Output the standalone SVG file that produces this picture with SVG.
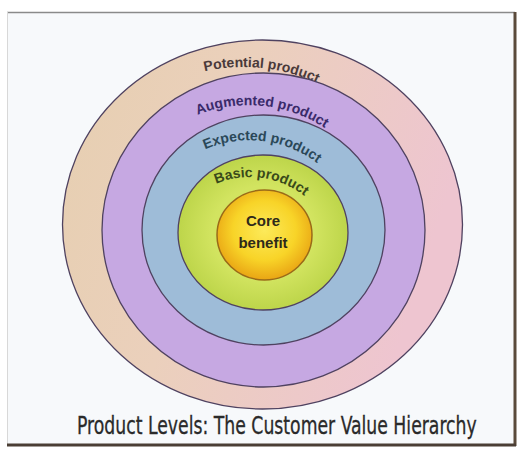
<svg xmlns="http://www.w3.org/2000/svg" width="532" height="454" viewBox="0 0 532 454">
  <defs>
    <linearGradient id="gOuter" x1="0" y1="0" x2="1" y2="0.3">
      <stop offset="0" stop-color="#e6cfb0"/>
      <stop offset="0.45" stop-color="#ebd0bc"/>
      <stop offset="1" stop-color="#eec5d0"/>
    </linearGradient>
    <radialGradient id="gCore" cx="0.5" cy="0.45" r="0.55">
      <stop offset="0" stop-color="#fcea5a"/>
      <stop offset="0.6" stop-color="#f8d428"/>
      <stop offset="1" stop-color="#e9a514"/>
    </radialGradient>
    <radialGradient id="gBasic" cx="0.5" cy="0.5" r="0.5">
      <stop offset="0.6" stop-color="#d2e460"/>
      <stop offset="1" stop-color="#bdd54a"/>
    </radialGradient>
    <path id="pPot" d="M 68.7 242 A 175 175 0 0 1 418.7 242"/>
    <path id="pAug" d="M 108.4 245.2 A 140 140 0 0 1 388.4 245.2"/>
    <path id="pExp" d="M 137.3 252.2 A 112 112 0 0 1 361.3 252.2"/>
    <path id="pBas" d="M 161.8 265.1 A 88 88 0 0 1 337.8 265.1"/>
  </defs>
  <style>
    .ring { stroke: #4f4260; stroke-width: 1.3; }
    .lbl { font-family: "Liberation Sans", Arial, sans-serif; font-size: 14px; font-weight: bold; text-anchor: middle; }
    .core { font-family: "Liberation Sans", Arial, sans-serif; font-size: 15px; font-weight: bold; text-anchor: middle; fill: #2e2a1a; }
    .cap { font-family: "DejaVu Sans Condensed", "Liberation Sans", sans-serif; font-size: 24px; fill: #2a2a2a; stroke: #2a2a2a; stroke-width: 0.3; }
  </style>
  <rect x="0" y="0" width="532" height="454" fill="#ffffff"/>
  <g id="frame">
    <rect x="7" y="12" width="508" height="433" fill="#f7f9fb"/>
    <line x1="7" y1="12.5" x2="515" y2="12.5" stroke="#8a8a8a" stroke-width="1.5"/>
    <line x1="7.5" y1="12" x2="7.5" y2="445" stroke="#d8d8d8" stroke-width="1"/>
    <line x1="515" y1="12" x2="515" y2="446" stroke="#5a4a3a" stroke-width="3"/>
    <line x1="7" y1="445" x2="516" y2="445" stroke="#4a3e34" stroke-width="3"/>
  </g>
  <g id="potential">
    <ellipse cx="262.5" cy="224.5" rx="200" ry="184.5" fill="url(#gOuter)" class="ring"/>
    <text class="lbl" fill="#4a3a3a"><textPath href="#pPot" startOffset="53.3%">Potential product</textPath></text>
  </g>
  <g id="augmented">
    <ellipse cx="263.5" cy="230" rx="161.5" ry="157" fill="#c6a8e2" class="ring"/>
    <text class="lbl" fill="#3a2a6a"><textPath href="#pAug" startOffset="53.3%">Augmented product</textPath></text>
  </g>
  <g id="expected">
    <ellipse cx="263.5" cy="230" rx="121.5" ry="115" fill="#9ebcd8" class="ring"/>
    <text class="lbl" fill="#2a4858"><textPath href="#pExp" startOffset="53.9%">Expected product</textPath></text>
  </g>
  <g id="basic">
    <ellipse cx="263" cy="232.5" rx="85" ry="77.5" fill="url(#gBasic)" class="ring"/>
    <text class="lbl" fill="#3a4a1a"><textPath href="#pBas" startOffset="54.4%">Basic product</textPath></text>
  </g>
  <g id="core">
    <ellipse cx="264.5" cy="235" rx="47.5" ry="45" fill="url(#gCore)" stroke="#9a6a18" stroke-width="1.5"/>
    <text class="core" x="263" y="226">Core</text>
    <text class="core" x="263" y="248">benefit</text>
  </g>
  <g id="caption">
    <text class="cap" transform="translate(77 434) scale(0.76 1)" x="0" y="0" textLength="526" lengthAdjust="spacingAndGlyphs">Product Levels: The Customer Value Hierarchy</text>
  </g>
</svg>
